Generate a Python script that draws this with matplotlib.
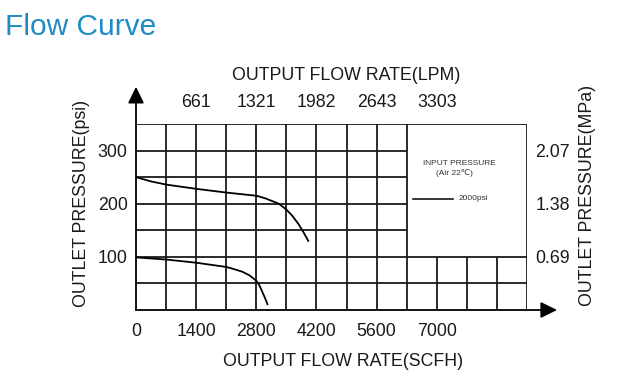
import matplotlib
matplotlib.use("Agg")
import matplotlib.pyplot as plt
import numpy as np

plt.rcParams['font.family'] = ['Liberation Sans', 'DejaVu Sans']

# curves (SCFH, psi)
upper_scfh = [0, 350, 700, 1400, 2100, 2800, 3015, 3170, 3325, 3500, 3630, 3780, 3900, 4010]
upper_psi = [250, 242, 236, 228, 221, 215, 210, 205, 200, 189, 178, 162, 146, 130]
lower_scfh = [0, 700, 1400, 2100, 2320, 2475, 2645, 2800, 2875, 2940, 2995, 3040, 3060]
lower_psi = [99, 95, 89, 81, 76, 72, 65, 55, 46, 34, 24, 15, 11]

scfh_ticks = [1400, 2800, 4200, 5600, 7000]
scfh_labels = ["1400", "2800", "4200", "5600", "7000"]
lpm_labels = ["661", "1321", "1982", "2643", "3303"]
psi_ticks = [100, 200, 300]
psi_labels = ["100", "200", "300"]
mpa_labels = ["0.69", "1.38", "2.07"]

W, H = 618, 386
fig = plt.figure(figsize=(W / 100, H / 100), dpi=100)
ax = fig.add_axes([136 / W, 1 - 310 / H, 391 / W, 186 / H])

xmax, ymax = 9100, 350
ax.set_xlim(0, xmax)
ax.set_ylim(0, ymax)
for s in ax.spines.values():
    s.set_visible(False)

gc = "#1a1a1a"
glw = 1.3
step_x, step_y = 700, 50
box_x, box_y = 6300, 100   # legend box corner, no grid inside

# vertical grid lines
for x in np.arange(step_x, xmax + 1, step_x):
    if box_x < x < xmax:
        ax.vlines(x, 0, box_y, color=gc, lw=glw)
    else:
        ax.vlines(x, 0, ymax, color=gc, lw=glw)
# horizontal grid lines
for y in np.arange(step_y, ymax + 1, step_y):
    if box_y < y < ymax:
        ax.hlines(y, 0, box_x, color=gc, lw=glw)
    else:
        ax.hlines(y, 0, xmax, color=gc, lw=glw)

# axes with arrows
ax.annotate("", xy=(0, 420), xytext=(0, 0), annotation_clip=False,
            arrowprops=dict(arrowstyle="-|>,head_length=0.55,head_width=0.27",
                            mutation_scale=18, lw=glw, color="black",
                            shrinkA=0, shrinkB=0))
ax.annotate("", xy=(9800, 0), xytext=(0, 0), annotation_clip=False,
            arrowprops=dict(arrowstyle="-|>,head_length=0.55,head_width=0.27",
                            mutation_scale=18, lw=glw, color="black",
                            shrinkA=0, shrinkB=0))

# curves
ax.plot(upper_scfh, upper_psi, color="black", lw=1.3)
ax.plot(lower_scfh, lower_psi, color="black", lw=1.3)

fs = 12.8
tc = "#1a1a1a"
ax.set_xticks([0] + scfh_ticks, ["0"] + scfh_labels)
ax.set_yticks(psi_ticks, psi_labels)
ax.tick_params(axis="x", length=0, pad=9, labelsize=fs, labelcolor=tc)
ax.tick_params(axis="y", length=0, pad=6, labelsize=fs, labelcolor=tc)

top = ax.secondary_xaxis("top")
top.set_xticks(scfh_ticks, lpm_labels)
top.tick_params(length=0, pad=9, labelsize=fs, labelcolor=tc)
top.spines["top"].set_visible(False)

right = ax.secondary_yaxis("right")
right.set_yticks(psi_ticks, mpa_labels)
right.tick_params(length=0, pad=6, labelsize=fs, labelcolor=tc)
right.spines["right"].set_visible(False)

# axis titles
fig.text(343 / W, 1 - 362 / H, "OUTPUT FLOW RATE(SCFH)", ha="center", va="center",
         fontsize=fs, color=tc)
fig.text(346 / W, 1 - 75 / H, "OUTPUT FLOW RATE(LPM)", ha="center", va="center",
         fontsize=fs, color=tc)
fig.text(82 / W, 1 - 203 / H, "OUTLET PRESSURE(psi)", ha="center", va="center",
         rotation=90, fontsize=fs, color=tc)
fig.text(587 / W, 1 - 195 / H, "OUTLET PRESSURE(MPa)", ha="center", va="center",
         rotation=90, fontsize=fs, color=tc)

# legend
ax.text(0.827, 0.79, "INPUT PRESSURE", transform=ax.transAxes, ha="center",
        va="center", fontsize=6, color="#333333")
ax.text(0.815, 0.737, "(Air 22℃)", transform=ax.transAxes, ha="center",
        va="center", fontsize=6, color="#333333")
ax.plot([0.708, 0.811], [0.597, 0.597], transform=ax.transAxes, color="black", lw=1.1)
ax.text(0.826, 0.597, "2000psi", transform=ax.transAxes, ha="left",
        va="center", fontsize=6, color="#333333")

fig.text(5 / W, 1 - 27 / H, "Flow Curve", ha="left", va="center",
         fontsize=21.5, color="#1e8bc3")

fig.savefig("out.png", dpi=100)
